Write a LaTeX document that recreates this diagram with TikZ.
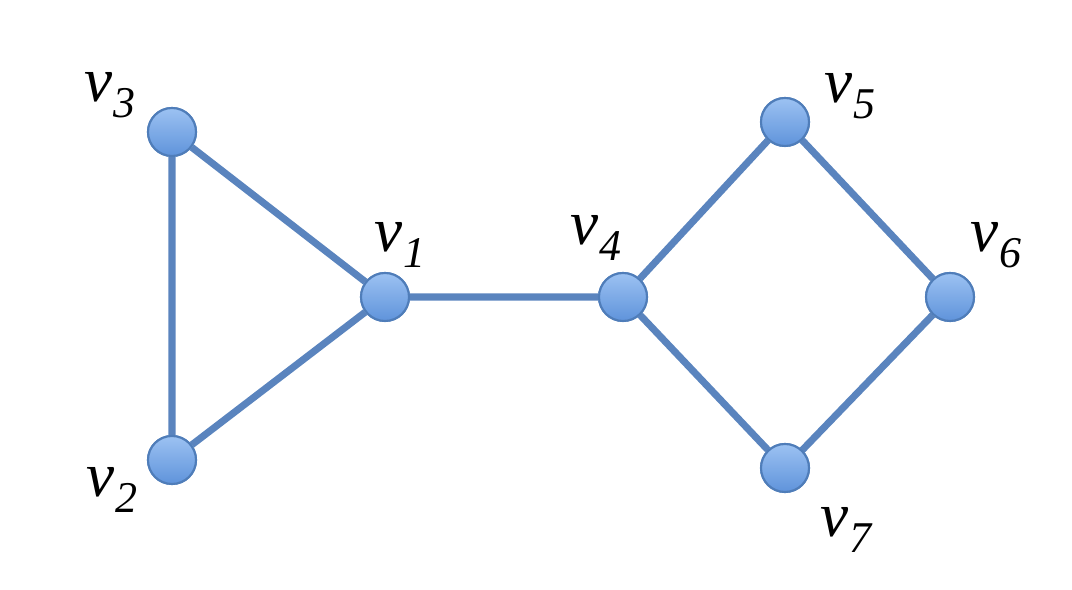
\documentclass[tikz,border=0pt]{standalone}
\usepackage{fontspec}
\setmainfont{Liberation Serif}
\definecolor{edgec}{HTML}{5A84BE}
\definecolor{nodeb}{HTML}{4F7DB9}
\definecolor{nodetop}{HTML}{9CC2F2}
\definecolor{nodebot}{HTML}{5F93DB}
\tikzset{vert/.style={circle,minimum size=0.96cm,inner sep=0pt,draw=nodeb,line width=1.2pt,top color=nodetop,bottom color=nodebot},
 edge/.style={draw=edgec,line width=4pt},
 lab/.style={font=\fontsize{36}{40}\selectfont\itshape,inner sep=0pt}}
\newcommand{\vlab}[1]{v\raisebox{-0.25em}{\fontsize{25}{28}\selectfont #1}}
\begin{document}
\begin{tikzpicture}[x=0.02cm,y=-0.02cm]
\useasboundingbox (0,0) rectangle (1072,590);
\node[vert] (v3) at (172,132) {};
\node[vert] (v2) at (172,460) {};
\node[vert] (v1) at (385,297) {};
\node[vert] (v4) at (623,297) {};
\node[vert] (v5) at (785,122) {};
\node[vert] (v6) at (950,297) {};
\node[vert] (v7) at (785,468) {};
\begin{scope}[on background layer/.style={}]
\end{scope}
\node[lab] (l3) at (110,95) {\vlab{3}};
\node[lab] (l2) at (112,490) {\vlab{2}};
\node[lab] (l1) at (400,245) {\vlab{1}};
\node[lab] (l4) at (596,238) {\vlab{4}};
\node[lab] (l5) at (850,96) {\vlab{5}};
\node[lab] (l6) at (996,245) {\vlab{6}};
\node[lab] (l7) at (846,530) {\vlab{7}};
\begin{pgfinterruptboundingbox}\end{pgfinterruptboundingbox}
\draw[edge] (v3) -- (v2) (v3) -- (v1) (v2) -- (v1) (v1) -- (v4)
 (v4) -- (v5) (v5) -- (v6) (v6) -- (v7) (v7) -- (v4);
\foreach \n/\p in {v3/{172,132},v2/{172,460},v1/{385,297},v4/{623,297},v5/{785,122},v6/{950,297},v7/{785,468}}
 \node[vert] at (\p) {};
\end{tikzpicture}
\end{document}
